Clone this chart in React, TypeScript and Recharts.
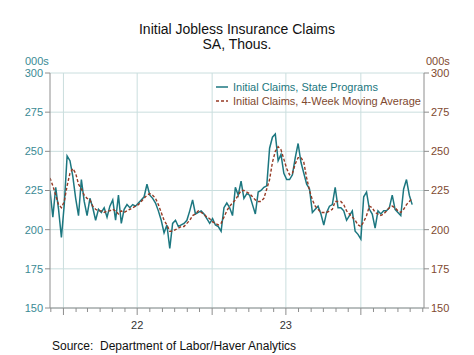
import { LineChart, Line, XAxis, YAxis, CartesianGrid, ReferenceLine, Legend } from "recharts";

const DAY = 86400000;
const FIRST_WEEK = Date.UTC(2021, 10, 29);
const AXIS_START = Date.UTC(2021, 10, 29);
const AXIS_END = Date.UTC(2024, 5, 4);

// Initial claims, state programs, SA, thousands (weekly)
const STATE_PROGRAMS = [
    225, 208, 227, 213, 195, 216, 247, 244, 234, 220,
    209, 232, 218, 209, 220, 214, 206, 213, 211, 214,
    208, 215, 219, 206, 222, 204, 213, 216, 214, 216,
    215, 217, 219, 221, 229, 222, 220, 217, 212, 206,
    198, 203, 188, 204, 206, 202, 203, 204, 206, 212,
    219, 210, 211, 212, 210, 207, 204, 207, 203, 202,
    199, 214, 217, 214, 209, 227, 222, 231, 220, 223,
    222, 216, 210, 224, 225, 227, 228, 252, 259, 261,
    244, 248, 236, 232, 232, 235, 246, 255, 243, 236,
    229, 226, 211, 213, 215, 210, 203, 211, 215, 216,
    227, 214, 214, 212, 206, 209, 212, 199, 197, 194,
    221, 224, 213, 210, 201, 212, 210, 212, 212, 214,
    222, 213, 211, 209, 226, 232, 222, 216,
];

// 4-week moving average
const MOVING_AVG = [
    233, 228, 222, 216, 214, 218, 228, 236, 239, 236,
    229, 226, 222, 220, 219, 215, 213, 212, 212, 211,
    212, 212, 213, 212, 210, 212, 211, 212, 213, 214,
    215, 216, 218, 220, 222, 223, 222, 220, 216, 211,
    206, 203, 199, 199, 200, 201, 202, 202, 204, 206,
    209, 210, 212, 211, 210, 208, 207, 205, 204, 203,
    204, 208, 212, 215, 217, 219, 222, 225, 225, 224,
    223, 221, 219, 218, 218, 220, 226, 232, 243, 250,
    253, 251, 245, 239, 235, 236, 242, 246, 246, 243,
    233, 225, 219, 215, 213, 211, 211, 211, 212, 213,
    218, 218, 218, 216, 212, 210, 208, 206, 203, 202,
    205, 209, 215, 214, 211, 210, 209, 210, 212, 214,
    215, 214, 212, 211, 213, 216, 218, 220,
];

const Y_TICKS = [150, 175, 200, 225, 250, 275, 300];
const YEAR_LABELS: Record<number, string> = { 2022: "22", 2023: "23" };

const MONTH_TICKS: number[] = [];
for (let m = 11; m <= 41; m++) MONTH_TICKS.push(Date.UTC(2021, m, 1));
const GRID_TIMES = MONTH_TICKS.filter((t) => {
    const m = new Date(t).getUTCMonth();
    return m === 0 || m === 6;
});

const data = STATE_PROGRAMS.map((v, i) => ({
    t: FIRST_WEEK + i * 7 * DAY,
    sp: v,
    ma: MOVING_AVG[i],
}));

const TEAL = "#1c7780";
const RED = "#963a24";
const TEAL_TXT = "#3a8a94";
const BROWN_TXT = "#80492f";
const GRID = "#cadede";
const AXIS = "#8e8e8e";
const FONT = "'Liberation Sans', Arial, sans-serif";

function MonthTick({ x, y, payload }: any) {
    const d = new Date(payload.value);
    const m = d.getUTCMonth();
    const major = m === 0 || m === 6;
    const label = m === 6 ? YEAR_LABELS[d.getUTCFullYear()] : undefined;
    return (
        <g>
            <line x1={x} x2={x} y1={y} y2={y + (major ? 7 : 4)} stroke={AXIS} />
            {label && (
                <text x={x} y={y + 21} textAnchor="middle" fontSize={11} fill="#333" fontFamily={FONT}>
                    {label}
                </text>
            )}
        </g>
    );
}

function LegendBox() {
    const row = { display: "flex", alignItems: "center", height: 14 } as const;
    return (
        <div style={{ fontSize: 11, fontFamily: FONT, whiteSpace: "nowrap" }}>
            <div style={{ ...row, color: TEAL }}>
                <svg width={12} height={8}>
                    <line x1={0} x2={12} y1={4} y2={4} stroke={TEAL} strokeWidth={1.5} />
                </svg>
                <span style={{ marginLeft: 5 }}>Initial Claims, State Programs</span>
            </div>
            <div style={{ ...row, color: BROWN_TXT }}>
                <svg width={12} height={8}>
                    <line x1={0} x2={12} y1={4} y2={4} stroke={RED} strokeWidth={1.3} strokeDasharray="3 2" />
                </svg>
                <span style={{ marginLeft: 5 }}>Initial Claims, 4-Week Moving Average</span>
            </div>
        </div>
    );
}

export default function App() {
    return (
        <div style={{ position: "absolute", left: 0, top: 0, width: 474, height: 355, background: "#fff", fontFamily: FONT }}>
            <div style={{ position: "absolute", left: 0, top: 22, width: 474, textAlign: "center", fontSize: 14, lineHeight: "15px", color: "#111" }}>
                Initial Jobless Insurance Claims
                <br />
                SA, Thous.
            </div>
            <div style={{ position: "absolute", left: 25, top: 55, fontSize: 11, lineHeight: "12px", color: TEAL_TXT }}>000s</div>
            <div style={{ position: "absolute", left: 426, top: 55, fontSize: 11, lineHeight: "12px", color: BROWN_TXT }}>000s</div>

            <LineChart width={474} height={355} data={data} margin={{ top: 73, right: 0, bottom: 0, left: 0 }}>
                <CartesianGrid vertical={false} stroke={GRID} />
                {GRID_TIMES.map((t) => (
                    <ReferenceLine key={t} x={t} stroke={GRID} />
                ))}
                <XAxis
                    dataKey="t"
                    type="number"
                    domain={[AXIS_START, AXIS_END]}
                    ticks={MONTH_TICKS}
                    interval={0}
                    height={47}
                    stroke={AXIS}
                    tickLine={false}
                    tickSize={0}
                    tickMargin={0}
                    tick={<MonthTick />}
                    allowDataOverflow
                />
                <YAxis
                    domain={[150, 300]}
                    ticks={Y_TICKS}
                    width={50}
                    stroke={AXIS}
                    tickSize={5}
                    tickMargin={2}
                    tick={{ fill: TEAL_TXT, fontSize: 11, fontFamily: FONT }}
                    allowDataOverflow
                />
                <YAxis
                    yAxisId="right"
                    orientation="right"
                    domain={[150, 300]}
                    ticks={Y_TICKS}
                    width={50}
                    stroke={AXIS}
                    tickSize={5}
                    tickMargin={2}
                    tick={{ fill: BROWN_TXT, fontSize: 11, fontFamily: FONT }}
                    allowDataOverflow
                />
                <Legend
                    layout="horizontal"
                    verticalAlign="middle"
                    align="center"
                    content={<LegendBox />}
                    wrapperStyle={{ left: 216, top: 80, width: 220 }}
                />
                <Line dataKey="sp" stroke={TEAL} strokeWidth={1.5} dot={false} isAnimationActive={false} />
                <Line dataKey="ma" stroke={RED} strokeWidth={1.4} strokeDasharray="3 2" dot={false} isAnimationActive={false} />
            </LineChart>

            <div style={{ position: "absolute", left: 52, top: 339, fontSize: 12, lineHeight: "14px", color: "#111" }}>
                Source:&nbsp; Department of Labor/Haver Analytics
            </div>
        </div>
    );
}
